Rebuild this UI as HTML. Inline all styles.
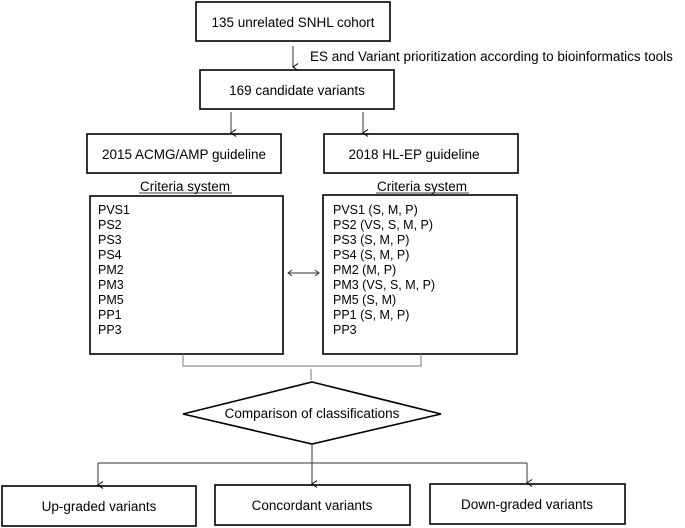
<!DOCTYPE html>
<html><head><meta charset="utf-8"><style>
html,body{margin:0;padding:0;background:#fff;}
svg{display:block;}
text{font-family:"Liberation Sans",Arial,sans-serif;fill:#000;}
</style></head><body>
<svg width="685" height="528" viewBox="0 0 685 528" xmlns="http://www.w3.org/2000/svg">
<defs>
<marker id="a" markerWidth="8" markerHeight="8" refX="4" refY="7" orient="auto" markerUnits="userSpaceOnUse">
<path d="M0.5,2 L4,7 L7.5,2" fill="none" stroke="#000" stroke-width="1"/></marker>
</defs>
<g fill="none" stroke="#000" stroke-width="1.6">
<rect x="196" y="2" width="194" height="39"/>
<rect x="200" y="70" width="194" height="39"/>
<rect x="87" y="134" width="194" height="39"/>
<rect x="324" y="134" width="194" height="39"/>
<rect x="90" y="196" width="193" height="158"/>
<rect x="323" y="195" width="194" height="159"/>
<rect x="2" y="486" width="194" height="40"/>
<rect x="215" y="485" width="195" height="40"/>
<rect x="430" y="484" width="195" height="40"/>
<polygon points="312,382 441,414 312,444 183,414"/>
</g>
<g fill="none" stroke="#333" stroke-width="1">
<line x1="293" y1="46" x2="293" y2="67" marker-end="url(#a)"/>
<line x1="231" y1="112" x2="231" y2="133" marker-end="url(#a)"/>
<line x1="363" y1="112" x2="363" y2="133" marker-end="url(#a)"/>
<line x1="288" y1="273" x2="319" y2="273"/>
<path d="M292,270 L288,273 L292,276 M315,270 L319,273 L315,276"/>
<polyline points="183,354 183,366 421,366 421,354" stroke="#777"/>
<line x1="311" y1="369" x2="311" y2="380" stroke="#777"/>
<line x1="312" y1="444" x2="312" y2="484" marker-end="url(#a)"/>
<line x1="98" y1="463" x2="527" y2="463"/>
<line x1="98" y1="463" x2="98" y2="485" marker-end="url(#a)"/>
<line x1="527" y1="463" x2="527" y2="483" marker-end="url(#a)"/>
</g>
<g font-size="13.5" text-anchor="middle">
<text x="293" y="27">135 unrelated SNHL cohort</text>
<text x="297" y="95">169 candidate variants</text>
<text x="184" y="159">2015 ACMG/AMP guideline</text>
<text x="414" y="159">2018 HL-EP guideline</text>
<text x="185" y="191">Criteria system</text>
<text x="422" y="191">Criteria system</text>
<text x="312" y="418">Comparison of classifications</text>
<text x="99" y="511">Up-graded variants</text>
<text x="312" y="510">Concordant variants</text>
<text x="527" y="509">Down-graded variants</text>
</g>
<text x="310" y="61" font-size="13.5">ES and Variant prioritization according to bioinformatics tools</text>
<g stroke="#000" stroke-width="0.8">
<line x1="139" y1="193" x2="232" y2="193"/>
<line x1="376" y1="193" x2="469" y2="193"/>
</g>
<g font-size="12.5">
<text x="98" y="214">PVS1</text><text x="98" y="229">PS2</text><text x="98" y="244">PS3</text>
<text x="98" y="259">PS4</text><text x="98" y="274">PM2</text><text x="98" y="289">PM3</text>
<text x="98" y="304">PM5</text><text x="98" y="319">PP1</text><text x="98" y="334">PP3</text>
<text x="333" y="214">PVS1 (S, M, P)</text><text x="333" y="229">PS2 (VS, S, M, P)</text>
<text x="333" y="244">PS3 (S, M, P)</text><text x="333" y="259">PS4 (S, M, P)</text>
<text x="333" y="274">PM2 (M, P)</text><text x="333" y="289">PM3 (VS, S, M, P)</text>
<text x="333" y="304">PM5 (S, M)</text><text x="333" y="319">PP1 (S, M, P)</text>
<text x="333" y="334">PP3</text>
</g>
</svg>
</body></html>
